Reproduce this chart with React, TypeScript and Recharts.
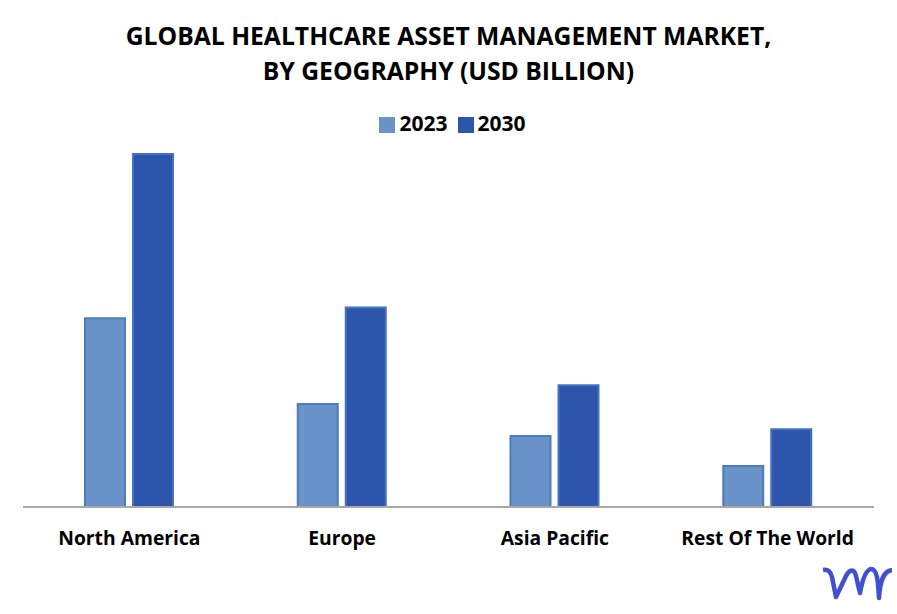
import { Bar, BarChart, Legend, XAxis, YAxis } from 'recharts';

const regions = ['North America', 'Europe', 'Asia Pacific', 'Rest Of The World'];
const values2023 = [4.73, 2.58, 1.78, 1.03];
const values2030 = [8.85, 5.0, 3.05, 1.95];

const data = regions.map((region, i) => ({
  region,
  y2023: values2023[i],
  y2030: values2030[i],
}));

const font = '"Open Sans", sans-serif';

export default function App() {
  return (
    <div style={{ position: 'absolute', left: 0, top: 0, width: 897, height: 614, background: '#fff', fontFamily: font }}>
      <div
        style={{
          position: 'absolute',
          left: 0,
          top: 18,
          width: 897,
          textAlign: 'center',
          fontSize: 24.7,
          lineHeight: '35px',
          fontWeight: 700,
          color: '#000',
        }}
      >
        GLOBAL HEALTHCARE ASSET MANAGEMENT MARKET,
        <br />
        BY GEOGRAPHY (USD BILLION)
      </div>
      <BarChart
        width={897}
        height={614}
        data={data}
        barSize={40}
        barGap={8}
        margin={{ top: 126, right: 23, bottom: 77, left: 23 }}
        style={{ position: 'absolute', left: 0, top: 0 }}
      >
        <XAxis
          dataKey="region"
          interval={0}
          tickLine={false}
          axisLine={{ stroke: '#aaa6a6', strokeWidth: 2 }}
          tick={{ fill: '#000', fontSize: 19.3, fontWeight: 700, fontFamily: font }}
          tickMargin={18}
        />
        <YAxis hide domain={[0, 8.85]} />
        <Legend
          verticalAlign="top"
          align="center"
          iconType="square"
          iconSize={16}
          wrapperStyle={{ top: 109, left: 18, width: 879, fontSize: 21, fontWeight: 700, fontFamily: font }}
          formatter={(value) => <span style={{ color: '#000' }}>{value}</span>}
        />
        <Bar dataKey="y2023" name="2023" fill="#6a93c9" stroke="#4a7ebb" strokeWidth={2} isAnimationActive={false} />
        <Bar dataKey="y2030" name="2030" fill="#2e55ac" stroke="#4472c4" strokeWidth={2} isAnimationActive={false} />
      </BarChart>
      <svg width={897} height={614} style={{ position: 'absolute', left: 0, top: 0, pointerEvents: 'none' }}>
        <path
          d="M823 570 C829 569 831 573 832 577 L836 597 L846 576 C849 570 853 569 855 573 C857 578 858 586 860 593 C862 582 865 570 871 569 C877 569 878 580 879 598 C880 582 883 571 892 570"
          fill="none"
          stroke="#3f51d0"
          strokeWidth={4.5}
          strokeLinejoin="round"
        />
      </svg>
    </div>
  );
}
